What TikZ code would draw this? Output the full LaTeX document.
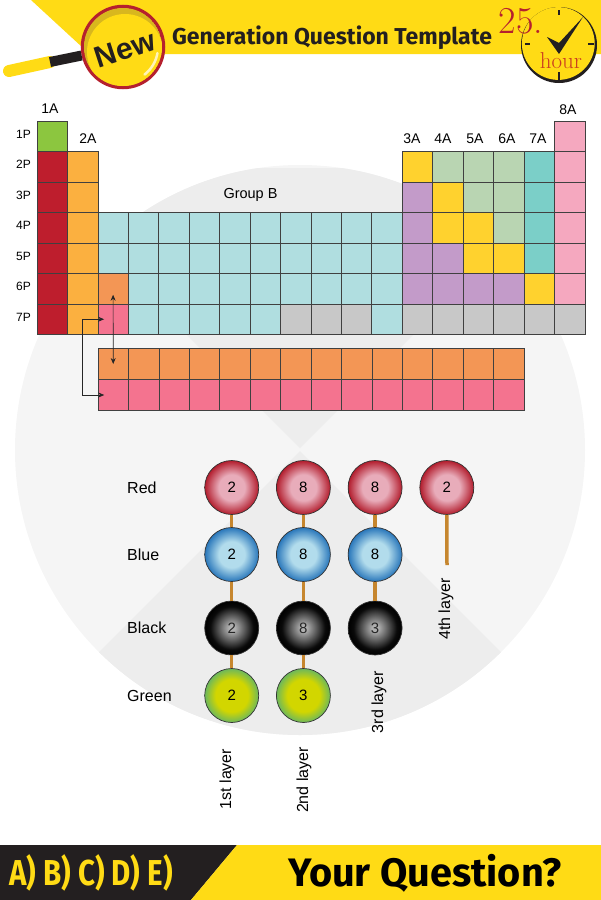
\documentclass[tikz,border=0pt]{standalone}
\usepackage{fontspec}
\setsansfont{Liberation Sans}
\newfontfamily\headfont{Fira Sans}
\usetikzlibrary{arrows.meta,positioning}

\definecolor{bandyellow}{HTML}{FFDB15}
\definecolor{darkband}{HTML}{231F20}
\definecolor{ringred}{HTML}{B5202E}
\definecolor{lensshade}{HTML}{D8B71E}
\definecolor{stick}{HTML}{C6862E}
\definecolor{circlegray}{HTML}{F5F5F5}
\definecolor{wedgegray}{HTML}{EDEDED}
% table cells, one letter each
\definecolor{cellg}{HTML}{8CC63F}
\definecolor{cellr}{HTML}{BE1E2D}
\definecolor{cello}{HTML}{FBB040}
\definecolor{cellb}{HTML}{B0DEE0}
\definecolor{celld}{HTML}{F39655}
\definecolor{cellk}{HTML}{F4738F}
\definecolor{celly}{HTML}{FFD22E}
\definecolor{cells}{HTML}{B9D5B2}
\definecolor{cellm}{HTML}{7BCFC8}
\definecolor{cellp}{HTML}{F5A8BF}
\definecolor{cellu}{HTML}{C39BC9}
\definecolor{cella}{HTML}{C8C8C8}
% balls, inside and rim
\definecolor{redin}{HTML}{E8ACBA}
\definecolor{redout}{HTML}{B21C2C}
\definecolor{bluein}{HTML}{B2DCEC}
\definecolor{blueout}{HTML}{2876BA}
\definecolor{blackin}{HTML}{B0B0B0}
\definecolor{blackout}{HTML}{0A0A0A}
\definecolor{greenin}{HTML}{D2D600}
\definecolor{greenout}{HTML}{6CB85C}

\pgfdeclareradialshading{ballred}{\pgfpoint{0bp}{0bp}}{color(0bp)=(redin); color(12bp)=(redin); color(25bp)=(redout); color(50bp)=(redout)}
\pgfdeclareradialshading{ballblue}{\pgfpoint{0bp}{0bp}}{color(0bp)=(bluein); color(12bp)=(bluein); color(25bp)=(blueout); color(50bp)=(blueout)}
\pgfdeclareradialshading{ballblack}{\pgfpoint{0bp}{0bp}}{color(0bp)=(blackin); color(3bp)=(blackin); color(20bp)=(blackout); color(25bp)=(black); color(50bp)=(black)}
\pgfdeclareradialshading{ballgreen}{\pgfpoint{0bp}{0bp}}{color(0bp)=(greenin); color(15bp)=(greenin); color(25bp)=(greenout); color(50bp)=(greenout)}

\begin{document}
\begin{tikzpicture}[
    x=1pt,
    y=-1pt,
    font=\sffamily,
    >={Stealth[length=6pt,width=5pt]},
    cell/.style={
        draw=black!75,
        line width=0.7pt,
        minimum width=30.44pt,
        minimum height=30.5pt,
        inner sep=0pt,
        outer sep=0pt
    },
    grouplabel/.style={
        font=\sffamily\fontsize{14}{16}\selectfont,
        inner sep=0pt
    },
    periodlabel/.style={
        font=\sffamily\fontsize{12}{14}\selectfont,
        inner sep=0pt
    },
    rowlabel/.style={
        font=\sffamily\fontsize{16}{18}\selectfont,
        anchor=west,
        inner sep=0pt
    },
    layerlabel/.style={
        font=\sffamily\fontsize{16}{18}\selectfont,
        rotate=90,
        inner sep=0pt
    },
    ball/.style={
        circle,
        draw=black!80,
        line width=0.7pt,
        minimum size=54pt,
        inner sep=0pt,
        font=\sffamily\fontsize{15}{17}\selectfont
    },
    ballred/.style={ball, shading=ballred},
    ballblue/.style={ball, shading=ballblue},
    ballblack/.style={ball, shading=ballblack, text=black!85},
    ballgreen/.style={ball, shading=ballgreen},
    rod/.style={
        draw=stick,
        line width=3.5pt
    },
    arrow/.style={
        line width=0.7pt,
        draw=black!85
    }
]
\useasboundingbox (0,0) rectangle (601,900);

% Background circle with its two wedges
\fill[circlegray] (300,450) circle[radius=285pt];
\begin{scope}
    \clip (300,450) circle[radius=285pt];
    \fill[wedgegray] (300,448) -- (20,168) -- (580,168) -- cycle;
    \fill[wedgegray] (300,451) -- (10,741) -- (590,741) -- cycle;
\end{scope}

% Header band
\fill[bandyellow] (31,0) -- (601,0) -- (601,54) -- (100,54) -- (82,47) -- cycle;

% Magnifier
\coordinate (handleend) at (9,71);
\coordinate (handlejoin) at (50,62);
\draw[bandyellow, line width=12pt, line cap=round] (handleend) -- (handlejoin);
\node[circle, draw=ringred, line width=3.5pt, fill=bandyellow, minimum size=81pt, inner sep=0pt] (lens) at (123,47) {};
\draw[darkband, line width=10pt] (handlejoin) -- (lens);
\begin{scope}
    \clip (123,47) circle[radius=39pt];
    \fill[lensshade] (123,47) circle[radius=39pt];
    \fill[bandyellow] (125,52) circle[radius=38pt];
\end{scope}
\draw[white!70!bandyellow, line width=2.5pt, line cap=round]
    ([shift={(-10:35pt)}]lens.center) arc[start angle=-10, end angle=-52, radius=35pt];
\node[font=\sffamily\bfseries\fontsize{30}{32}\selectfont, rotate=18, text=darkband, inner sep=0pt] (newtag) at (125,49) {New};

% Title
\node[font=\headfont\bfseries\fontsize{23}{25}\selectfont, text=darkband, inner sep=0pt] (title) at (332,38) {Generation Question Template};

% Clock
\node[circle, fill=darkband, minimum size=76pt, inner sep=0pt] (clockrim) at (559,45) {};
\node[circle, fill=bandyellow, minimum size=72.8pt, inner sep=0pt] (clockface) at (558.3,43.5) {};
\draw[darkband, line width=2pt] (559,10) -- (559,15);
\draw[darkband, line width=2pt] (559,72) -- (559,80);
\draw[darkband, line width=2pt] (525,44) -- (530,44);
\draw[darkband, line width=2pt] (588,44) -- (594,44);
\fill[darkband] (547,37) -- (559,54) -- (583,17) -- (559,43) -- cycle;
\node[font=\rmfamily\fontsize{38}{40}\selectfont, text=ringred, inner sep=0pt] (hours) at (521,21) {25.};
\node[font=\rmfamily\fontsize{23}{25}\selectfont, text=ringred!70!orange, inner sep=0pt] (hourword) at (561,61) {hour};

% Periodic table
\foreach \r/\cols in {
    1/{g,n,n,n,n,n,n,n,n,n,n,n,n,n,n,n,n,p},
    2/{r,o,n,n,n,n,n,n,n,n,n,n,y,s,s,s,m,p},
    3/{r,o,n,n,n,n,n,n,n,n,n,n,u,y,s,s,m,p},
    4/{r,o,b,b,b,b,b,b,b,b,b,b,u,y,y,s,m,p},
    5/{r,o,b,b,b,b,b,b,b,b,b,b,u,u,y,y,m,p},
    6/{r,o,d,b,b,b,b,b,b,b,b,b,u,u,u,u,y,p},
    7/{r,o,k,b,b,b,b,b,a,a,a,b,a,a,a,a,a,a}} {
    \foreach \col [count=\c] in \cols {
        \if\col n\else
            \node[cell, fill=cell\col] (c\r-\c) at ({37+30.44*(\c-0.5)},{121+30.5*(\r-0.5)}) {};
        \fi
    }
    % Period label
    \node[periodlabel, left=6pt of c\r-1, yshift=2pt] (period\r) {\r P};
}

% Group labels
\foreach \name/\x/\y in {1/50/109, 2/88/139, 3/412/139, 4/443/139, 5/475/139, 6/507/139, 7/538/139, 8/568/110} {
    \node[grouplabel] (group\name) at (\x,\y) {\name A};
}
\node[grouplabel, font=\sffamily\fontsize{14.5}{16}\selectfont] (groupb) at (250.5,195) {Group B};

% Lower block
\foreach \c in {1,...,14} {
    \node[cell, fill=celld] (lowa\c) at ({98+30.44*(\c-0.5)},364) {};
    \node[cell, fill=cellk] (lowb\c) at ({98+30.44*(\c-0.5)},395) {};
}

% Arrows
\draw[arrow, <->] ([yshift=-6pt]c6-3.center) -- (lowa1.center);
\draw[arrow, <->] ([xshift=-9pt]c7-3.center) -- ++(-21.5,0) |- ([xshift=-9pt]lowb1.center);

% Electron balls
\foreach \kind/\y/\list/\label in {red/487.5/{2,8,8,2}/Red, blue/554.5/{2,8,8}/Blue, black/628/{2,8,3}/Black, green/695.5/{2,3}/Green} {
    \node[rowlabel] (\kind label) at (127,\y) {\label};
    \foreach \n [count=\i] in \list {
        \node[ball\kind] (\kind\i) at ({231.7+71.7*(\i-1)},\y) {\n};
    }
}

% Rods
\foreach \i in {1,2,3} {
    \draw[rod] (red\i) -- (blue\i);
    \draw[rod] (blue\i) -- (black\i);
}
\foreach \i in {1,2} {
    \draw[rod] (black\i) -- (green\i);
}
\coordinate (rodend) at (447,565);
\draw[rod] (red4) -- (rodend);

% Layer labels
\node[layerlabel] (layer1) at (227,779) {1st layer};
\node[layerlabel] (layer2) at (304,780) {2nd layer};
\node[layerlabel] (layer3) at (379,702) {3rd layer};
\node[layerlabel] (layer4) at (446,609) {4th layer};

% Footer band
\fill[darkband] (0,845) -- (237,845) -- (191,900) -- (0,900) -- cycle;
\fill[bandyellow] (237,845) -- (601,845) -- (601,900) -- (191,900) -- cycle;
\node[font=\headfont\bfseries\fontsize{36}{38}\selectfont, text=bandyellow, xscale=0.82, transform shape, inner sep=0pt] (choices) at (91,873) {A) B) C) D) E)};
\node[font=\headfont\bfseries\fontsize{39.7}{42}\selectfont, text=black, inner sep=0pt] (question) at (425,873) {Your Question?};

\end{tikzpicture}
\end{document}
